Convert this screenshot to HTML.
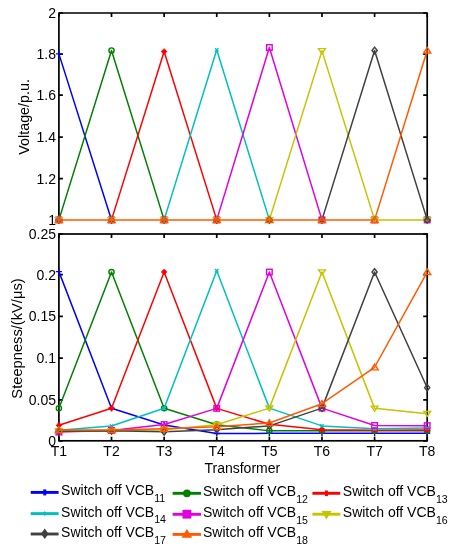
<!DOCTYPE html><html><head><meta charset="utf-8"><style>html,body{margin:0;padding:0;background:#fff;}svg{display:block;will-change:transform;}text{font-family:"Liberation Sans",sans-serif;fill:#000;}</style></head><body>
<svg width="455" height="550" viewBox="0 0 455 550">
<rect width="455" height="550" fill="#fff"/>
<path d="M58.9 218.9V13H427.2V218.9" fill="none" stroke="#000" stroke-width="1.7" stroke-linejoin="round"/>
<path d="M58.9 219.9V215.9M58.9 13V17M111.51 219.9V215.9M111.51 13V17M164.13 219.9V215.9M164.13 13V17M216.74 219.9V215.9M216.74 13V17M269.36 219.9V215.9M269.36 13V17M321.97 219.9V215.9M321.97 13V17M374.59 219.9V215.9M374.59 13V17M427.2 219.9V215.9M427.2 13V17M58.9 13H62.9M427.2 13H423.2M58.9 54.1H62.9M427.2 54.1H423.2M58.9 95.1H62.9M427.2 95.1H423.2M58.9 137.2H62.9M427.2 137.2H423.2M58.9 178.6H62.9M427.2 178.6H423.2M58.9 219.9H62.9M427.2 219.9H423.2" stroke="#000" stroke-width="1.7" fill="none"/>
<rect x="58.9" y="234" width="368.3" height="206.8" fill="none" stroke="#000" stroke-width="1.7"/>
<path d="M58.9 440.8V436.8M58.9 234V238M111.51 440.8V436.8M111.51 234V238M164.13 440.8V436.8M164.13 234V238M216.74 440.8V436.8M216.74 234V238M269.36 440.8V436.8M269.36 234V238M321.97 440.8V436.8M321.97 234V238M374.59 440.8V436.8M374.59 234V238M427.2 440.8V436.8M427.2 234V238M58.9 234H62.9M427.2 234H423.2M58.9 274.7H62.9M427.2 274.7H423.2M58.9 316.3H62.9M427.2 316.3H423.2M58.9 358.1H62.9M427.2 358.1H423.2M58.9 399.8H62.9M427.2 399.8H423.2M58.9 440.8H62.9M427.2 440.8H423.2" stroke="#000" stroke-width="1.7" fill="none"/>
<path d="M58.9 53.86L111.51 219.9" fill="none" stroke="#0000ff" stroke-width="1.5" stroke-linejoin="round" stroke-linecap="round"/>
<path d="M55.9 53.86H61.9M58.9 50.86V56.86" stroke="#0000ff" stroke-width="1.4" fill="none"/>
<path d="M108.51 219.9H114.51M111.51 216.9V222.9" stroke="#0000ff" stroke-width="1.4" fill="none"/>
<path d="M161.13 219.9H167.13M164.13 216.9V222.9" stroke="#0000ff" stroke-width="1.4" fill="none"/>
<path d="M213.74 219.9H219.74M216.74 216.9V222.9" stroke="#0000ff" stroke-width="1.4" fill="none"/>
<path d="M266.36 219.9H272.36M269.36 216.9V222.9" stroke="#0000ff" stroke-width="1.4" fill="none"/>
<path d="M318.97 219.9H324.97M321.97 216.9V222.9" stroke="#0000ff" stroke-width="1.4" fill="none"/>
<path d="M371.59 219.9H377.59M374.59 216.9V222.9" stroke="#0000ff" stroke-width="1.4" fill="none"/>
<path d="M424.2 219.9H430.2M427.2 216.9V222.9" stroke="#0000ff" stroke-width="1.4" fill="none"/>
<polyline points="58.9,271.64 111.51,408.21 164.13,425.08 216.74,433.52 269.36,433.36 321.97,433.36 374.59,433.36 427.2,433.19" fill="none" stroke="#0000ff" stroke-width="1.5" stroke-linejoin="round"/>
<path d="M55.9 271.64H61.9M58.9 268.64V274.64" stroke="#0000ff" stroke-width="1.4" fill="none"/>
<path d="M108.51 408.21H114.51M111.51 405.21V411.21" stroke="#0000ff" stroke-width="1.4" fill="none"/>
<path d="M161.13 425.08H167.13M164.13 422.08V428.08" stroke="#0000ff" stroke-width="1.4" fill="none"/>
<path d="M213.74 433.52H219.74M216.74 430.52V436.52" stroke="#0000ff" stroke-width="1.4" fill="none"/>
<path d="M266.36 433.36H272.36M269.36 430.36V436.36" stroke="#0000ff" stroke-width="1.4" fill="none"/>
<path d="M318.97 433.36H324.97M321.97 430.36V436.36" stroke="#0000ff" stroke-width="1.4" fill="none"/>
<path d="M371.59 433.36H377.59M374.59 430.36V436.36" stroke="#0000ff" stroke-width="1.4" fill="none"/>
<path d="M424.2 433.19H430.2M427.2 430.19V436.19" stroke="#0000ff" stroke-width="1.4" fill="none"/>
<path d="M58.9 219.9L111.51 50.45M111.51 50.45L164.13 219.9" fill="none" stroke="#008000" stroke-width="1.5" stroke-linejoin="round" stroke-linecap="round"/>
<circle cx="58.9" cy="219.9" r="2.6" stroke="#008000" stroke-width="1.4" fill="none"/>
<circle cx="111.51" cy="50.45" r="2.6" stroke="#008000" stroke-width="1.4" fill="none"/>
<circle cx="164.13" cy="219.9" r="2.6" stroke="#008000" stroke-width="1.4" fill="none"/>
<circle cx="216.74" cy="219.9" r="2.6" stroke="#008000" stroke-width="1.4" fill="none"/>
<circle cx="269.36" cy="219.9" r="2.6" stroke="#008000" stroke-width="1.4" fill="none"/>
<circle cx="321.97" cy="219.9" r="2.6" stroke="#008000" stroke-width="1.4" fill="none"/>
<circle cx="374.59" cy="219.9" r="2.6" stroke="#008000" stroke-width="1.4" fill="none"/>
<circle cx="427.2" cy="219.9" r="2.6" stroke="#008000" stroke-width="1.4" fill="none"/>
<polyline points="58.9,408.21 111.51,272.05 164.13,408.21 216.74,424.67 269.36,430.87 321.97,430.87 374.59,430.87 427.2,430.87" fill="none" stroke="#008000" stroke-width="1.5" stroke-linejoin="round"/>
<circle cx="58.9" cy="408.21" r="2.6" stroke="#008000" stroke-width="1.4" fill="none"/>
<circle cx="111.51" cy="272.05" r="2.6" stroke="#008000" stroke-width="1.4" fill="none"/>
<circle cx="164.13" cy="408.21" r="2.6" stroke="#008000" stroke-width="1.4" fill="none"/>
<circle cx="216.74" cy="424.67" r="2.6" stroke="#008000" stroke-width="1.4" fill="none"/>
<circle cx="269.36" cy="430.87" r="2.6" stroke="#008000" stroke-width="1.4" fill="none"/>
<circle cx="321.97" cy="430.87" r="2.6" stroke="#008000" stroke-width="1.4" fill="none"/>
<circle cx="374.59" cy="430.87" r="2.6" stroke="#008000" stroke-width="1.4" fill="none"/>
<circle cx="427.2" cy="430.87" r="2.6" stroke="#008000" stroke-width="1.4" fill="none"/>
<path d="M111.51 219.9L164.13 51.48M164.13 51.48L216.74 219.9" fill="none" stroke="#ff0000" stroke-width="1.5" stroke-linejoin="round" stroke-linecap="round"/>
<path d="M55.9 219.9H61.9M58.9 216.9V222.9M57.2 218.2L60.6 221.6M57.2 221.6L60.6 218.2" stroke="#ff0000" stroke-width="1.4" fill="none"/>
<path d="M108.51 219.9H114.51M111.51 216.9V222.9M109.81 218.2L113.21 221.6M109.81 221.6L113.21 218.2" stroke="#ff0000" stroke-width="1.4" fill="none"/>
<path d="M161.13 51.48H167.13M164.13 48.48V54.48M162.43 49.78L165.83 53.18M162.43 53.18L165.83 49.78" stroke="#ff0000" stroke-width="1.4" fill="none"/>
<path d="M213.74 219.9H219.74M216.74 216.9V222.9M215.04 218.2L218.44 221.6M215.04 221.6L218.44 218.2" stroke="#ff0000" stroke-width="1.4" fill="none"/>
<path d="M266.36 219.9H272.36M269.36 216.9V222.9M267.66 218.2L271.06 221.6M267.66 221.6L271.06 218.2" stroke="#ff0000" stroke-width="1.4" fill="none"/>
<path d="M318.97 219.9H324.97M321.97 216.9V222.9M320.27 218.2L323.67 221.6M320.27 221.6L323.67 218.2" stroke="#ff0000" stroke-width="1.4" fill="none"/>
<path d="M371.59 219.9H377.59M374.59 216.9V222.9M372.89 218.2L376.29 221.6M372.89 221.6L376.29 218.2" stroke="#ff0000" stroke-width="1.4" fill="none"/>
<path d="M424.2 219.9H430.2M427.2 216.9V222.9M425.5 218.2L428.9 221.6M425.5 221.6L428.9 218.2" stroke="#ff0000" stroke-width="1.4" fill="none"/>
<polyline points="58.9,425.33 111.51,408.21 164.13,272.05 216.74,408.37 269.36,424.26 321.97,429.8 374.59,430.29 427.2,430.05" fill="none" stroke="#ff0000" stroke-width="1.5" stroke-linejoin="round"/>
<path d="M55.9 425.33H61.9M58.9 422.33V428.33M57.2 423.63L60.6 427.03M57.2 427.03L60.6 423.63" stroke="#ff0000" stroke-width="1.4" fill="none"/>
<path d="M108.51 408.21H114.51M111.51 405.21V411.21M109.81 406.51L113.21 409.91M109.81 409.91L113.21 406.51" stroke="#ff0000" stroke-width="1.4" fill="none"/>
<path d="M161.13 272.05H167.13M164.13 269.05V275.05M162.43 270.35L165.83 273.75M162.43 273.75L165.83 270.35" stroke="#ff0000" stroke-width="1.4" fill="none"/>
<path d="M213.74 408.37H219.74M216.74 405.37V411.37M215.04 406.67L218.44 410.07M215.04 410.07L218.44 406.67" stroke="#ff0000" stroke-width="1.4" fill="none"/>
<path d="M266.36 424.26H272.36M269.36 421.26V427.26M267.66 422.56L271.06 425.96M267.66 425.96L271.06 422.56" stroke="#ff0000" stroke-width="1.4" fill="none"/>
<path d="M318.97 429.8H324.97M321.97 426.8V432.8M320.27 428.1L323.67 431.5M320.27 431.5L323.67 428.1" stroke="#ff0000" stroke-width="1.4" fill="none"/>
<path d="M371.59 430.29H377.59M374.59 427.29V433.29M372.89 428.59L376.29 431.99M372.89 431.99L376.29 428.59" stroke="#ff0000" stroke-width="1.4" fill="none"/>
<path d="M424.2 430.05H430.2M427.2 427.05V433.05M425.5 428.35L428.9 431.75M425.5 431.75L428.9 428.35" stroke="#ff0000" stroke-width="1.4" fill="none"/>
<path d="M164.13 219.9L216.74 49.83M216.74 49.83L269.36 219.9" fill="none" stroke="#00bfbf" stroke-width="1.5" stroke-linejoin="round" stroke-linecap="round"/>
<path d="M57.2 218.2L60.6 221.6M57.2 221.6L60.6 218.2" stroke="#00bfbf" stroke-width="1.4" fill="none"/>
<path d="M109.81 218.2L113.21 221.6M109.81 221.6L113.21 218.2" stroke="#00bfbf" stroke-width="1.4" fill="none"/>
<path d="M162.43 218.2L165.83 221.6M162.43 221.6L165.83 218.2" stroke="#00bfbf" stroke-width="1.4" fill="none"/>
<path d="M215.04 48.13L218.44 51.53M215.04 51.53L218.44 48.13" stroke="#00bfbf" stroke-width="1.4" fill="none"/>
<path d="M267.66 218.2L271.06 221.6M267.66 221.6L271.06 218.2" stroke="#00bfbf" stroke-width="1.4" fill="none"/>
<path d="M320.27 218.2L323.67 221.6M320.27 221.6L323.67 218.2" stroke="#00bfbf" stroke-width="1.4" fill="none"/>
<path d="M372.89 218.2L376.29 221.6M372.89 221.6L376.29 218.2" stroke="#00bfbf" stroke-width="1.4" fill="none"/>
<path d="M425.5 218.2L428.9 221.6M425.5 221.6L428.9 218.2" stroke="#00bfbf" stroke-width="1.4" fill="none"/>
<polyline points="58.9,430.21 111.51,426.08 164.13,408.21 216.74,270.81 269.36,408.13 321.97,425.91 374.59,428.81 427.2,427.98" fill="none" stroke="#00bfbf" stroke-width="1.5" stroke-linejoin="round"/>
<path d="M57.2 428.51L60.6 431.91M57.2 431.91L60.6 428.51" stroke="#00bfbf" stroke-width="1.4" fill="none"/>
<path d="M109.81 424.38L113.21 427.78M109.81 427.78L113.21 424.38" stroke="#00bfbf" stroke-width="1.4" fill="none"/>
<path d="M162.43 406.51L165.83 409.91M162.43 409.91L165.83 406.51" stroke="#00bfbf" stroke-width="1.4" fill="none"/>
<path d="M215.04 269.11L218.44 272.51M215.04 272.51L218.44 269.11" stroke="#00bfbf" stroke-width="1.4" fill="none"/>
<path d="M267.66 406.43L271.06 409.83M267.66 409.83L271.06 406.43" stroke="#00bfbf" stroke-width="1.4" fill="none"/>
<path d="M320.27 424.21L323.67 427.61M320.27 427.61L323.67 424.21" stroke="#00bfbf" stroke-width="1.4" fill="none"/>
<path d="M372.89 427.11L376.29 430.51M372.89 430.51L376.29 427.11" stroke="#00bfbf" stroke-width="1.4" fill="none"/>
<path d="M425.5 426.28L428.9 429.68M425.5 429.68L428.9 426.28" stroke="#00bfbf" stroke-width="1.4" fill="none"/>
<path d="M216.74 219.9L269.36 47.55M269.36 47.55L321.97 219.9" fill="none" stroke="#e000e0" stroke-width="1.5" stroke-linejoin="round" stroke-linecap="round"/>
<rect x="56.1" y="217.1" width="5.6" height="5.6" stroke="#e000e0" stroke-width="1.4" fill="none"/>
<rect x="108.71" y="217.1" width="5.6" height="5.6" stroke="#e000e0" stroke-width="1.4" fill="none"/>
<rect x="161.33" y="217.1" width="5.6" height="5.6" stroke="#e000e0" stroke-width="1.4" fill="none"/>
<rect x="213.94" y="217.1" width="5.6" height="5.6" stroke="#e000e0" stroke-width="1.4" fill="none"/>
<rect x="266.56" y="44.75" width="5.6" height="5.6" stroke="#e000e0" stroke-width="1.4" fill="none"/>
<rect x="319.17" y="217.1" width="5.6" height="5.6" stroke="#e000e0" stroke-width="1.4" fill="none"/>
<rect x="371.79" y="217.1" width="5.6" height="5.6" stroke="#e000e0" stroke-width="1.4" fill="none"/>
<rect x="424.4" y="217.1" width="5.6" height="5.6" stroke="#e000e0" stroke-width="1.4" fill="none"/>
<polyline points="58.9,432.11 111.51,430.38 164.13,424.59 216.74,408.37 269.36,272.05 321.97,408.13 374.59,425.5 427.2,425.66" fill="none" stroke="#e000e0" stroke-width="1.5" stroke-linejoin="round"/>
<rect x="56.1" y="429.31" width="5.6" height="5.6" stroke="#e000e0" stroke-width="1.4" fill="none"/>
<rect x="108.71" y="427.58" width="5.6" height="5.6" stroke="#e000e0" stroke-width="1.4" fill="none"/>
<rect x="161.33" y="421.79" width="5.6" height="5.6" stroke="#e000e0" stroke-width="1.4" fill="none"/>
<rect x="213.94" y="405.57" width="5.6" height="5.6" stroke="#e000e0" stroke-width="1.4" fill="none"/>
<rect x="266.56" y="269.25" width="5.6" height="5.6" stroke="#e000e0" stroke-width="1.4" fill="none"/>
<rect x="319.17" y="405.33" width="5.6" height="5.6" stroke="#e000e0" stroke-width="1.4" fill="none"/>
<rect x="371.79" y="422.7" width="5.6" height="5.6" stroke="#e000e0" stroke-width="1.4" fill="none"/>
<rect x="424.4" y="422.86" width="5.6" height="5.6" stroke="#e000e0" stroke-width="1.4" fill="none"/>
<path d="M269.36 219.9L321.97 50.86M321.97 50.86L374.59 219.9M374.59 219.9L427.2 219.9" fill="none" stroke="#c4c400" stroke-width="1.5" stroke-linejoin="round" stroke-linecap="round"/>
<path d="M55.5 217.7H62.3L58.9 222.7Z" stroke="#c4c400" stroke-width="1.4" fill="none" stroke-linejoin="miter"/>
<path d="M108.11 217.7H114.91L111.51 222.7Z" stroke="#c4c400" stroke-width="1.4" fill="none" stroke-linejoin="miter"/>
<path d="M160.73 217.7H167.53L164.13 222.7Z" stroke="#c4c400" stroke-width="1.4" fill="none" stroke-linejoin="miter"/>
<path d="M213.34 217.7H220.14L216.74 222.7Z" stroke="#c4c400" stroke-width="1.4" fill="none" stroke-linejoin="miter"/>
<path d="M265.96 217.7H272.76L269.36 222.7Z" stroke="#c4c400" stroke-width="1.4" fill="none" stroke-linejoin="miter"/>
<path d="M318.57 48.66H325.37L321.97 53.66Z" stroke="#c4c400" stroke-width="1.4" fill="none" stroke-linejoin="miter"/>
<path d="M371.19 217.7H377.99L374.59 222.7Z" stroke="#c4c400" stroke-width="1.4" fill="none" stroke-linejoin="miter"/>
<path d="M423.8 217.7H430.6L427.2 222.7Z" stroke="#c4c400" stroke-width="1.4" fill="none" stroke-linejoin="miter"/>
<polyline points="58.9,430.87 111.51,430.87 164.13,429.63 216.74,424.67 269.36,408.13 321.97,272.05 374.59,408.37 427.2,413.67" fill="none" stroke="#c4c400" stroke-width="1.5" stroke-linejoin="round"/>
<path d="M55.5 428.67H62.3L58.9 433.67Z" stroke="#c4c400" stroke-width="1.4" fill="none" stroke-linejoin="miter"/>
<path d="M108.11 428.67H114.91L111.51 433.67Z" stroke="#c4c400" stroke-width="1.4" fill="none" stroke-linejoin="miter"/>
<path d="M160.73 427.43H167.53L164.13 432.43Z" stroke="#c4c400" stroke-width="1.4" fill="none" stroke-linejoin="miter"/>
<path d="M213.34 422.47H220.14L216.74 427.47Z" stroke="#c4c400" stroke-width="1.4" fill="none" stroke-linejoin="miter"/>
<path d="M265.96 405.93H272.76L269.36 410.93Z" stroke="#c4c400" stroke-width="1.4" fill="none" stroke-linejoin="miter"/>
<path d="M318.57 269.85H325.37L321.97 274.85Z" stroke="#c4c400" stroke-width="1.4" fill="none" stroke-linejoin="miter"/>
<path d="M371.19 406.17H377.99L374.59 411.17Z" stroke="#c4c400" stroke-width="1.4" fill="none" stroke-linejoin="miter"/>
<path d="M423.8 411.47H430.6L427.2 416.47Z" stroke="#c4c400" stroke-width="1.4" fill="none" stroke-linejoin="miter"/>
<path d="M321.97 219.9L374.59 50.45M374.59 50.45L427.2 219.9" fill="none" stroke="#404040" stroke-width="1.5" stroke-linejoin="round" stroke-linecap="round"/>
<path d="M58.9 216.6L61.5 219.9L58.9 223.2L56.3 219.9Z" stroke="#404040" stroke-width="1.4" fill="none"/>
<path d="M111.51 216.6L114.11 219.9L111.51 223.2L108.91 219.9Z" stroke="#404040" stroke-width="1.4" fill="none"/>
<path d="M164.13 216.6L166.73 219.9L164.13 223.2L161.53 219.9Z" stroke="#404040" stroke-width="1.4" fill="none"/>
<path d="M216.74 216.6L219.34 219.9L216.74 223.2L214.14 219.9Z" stroke="#404040" stroke-width="1.4" fill="none"/>
<path d="M269.36 216.6L271.96 219.9L269.36 223.2L266.76 219.9Z" stroke="#404040" stroke-width="1.4" fill="none"/>
<path d="M321.97 216.6L324.57 219.9L321.97 223.2L319.37 219.9Z" stroke="#404040" stroke-width="1.4" fill="none"/>
<path d="M374.59 47.15L377.19 50.45L374.59 53.75L371.99 50.45Z" stroke="#404040" stroke-width="1.4" fill="none"/>
<path d="M427.2 216.6L429.8 219.9L427.2 223.2L424.6 219.9Z" stroke="#404040" stroke-width="1.4" fill="none"/>
<polyline points="58.9,431.29 111.51,430.87 164.13,431.7 216.74,429.63 269.36,425.91 321.97,408.13 374.59,272.05 427.2,387.69" fill="none" stroke="#404040" stroke-width="1.5" stroke-linejoin="round"/>
<path d="M58.9 427.99L61.5 431.29L58.9 434.59L56.3 431.29Z" stroke="#404040" stroke-width="1.4" fill="none"/>
<path d="M111.51 427.57L114.11 430.87L111.51 434.17L108.91 430.87Z" stroke="#404040" stroke-width="1.4" fill="none"/>
<path d="M164.13 428.4L166.73 431.7L164.13 435L161.53 431.7Z" stroke="#404040" stroke-width="1.4" fill="none"/>
<path d="M216.74 426.33L219.34 429.63L216.74 432.93L214.14 429.63Z" stroke="#404040" stroke-width="1.4" fill="none"/>
<path d="M269.36 422.61L271.96 425.91L269.36 429.21L266.76 425.91Z" stroke="#404040" stroke-width="1.4" fill="none"/>
<path d="M321.97 404.83L324.57 408.13L321.97 411.43L319.37 408.13Z" stroke="#404040" stroke-width="1.4" fill="none"/>
<path d="M374.59 268.75L377.19 272.05L374.59 275.35L371.99 272.05Z" stroke="#404040" stroke-width="1.4" fill="none"/>
<path d="M427.2 384.39L429.8 387.69L427.2 390.99L424.6 387.69Z" stroke="#404040" stroke-width="1.4" fill="none"/>
<path d="M58.9 219.9L111.51 219.9M111.51 219.9L164.13 219.9M164.13 219.9L216.74 219.9M216.74 219.9L269.36 219.9M269.36 219.9L321.97 219.9M321.97 219.9L374.59 219.9M374.59 219.9L427.2 50.45" fill="none" stroke="#ff5a00" stroke-width="1.5" stroke-linejoin="round" stroke-linecap="round"/>
<path d="M55.3 222.5H62.5L58.9 216.7Z" stroke="#ff5a00" stroke-width="1.4" fill="none" stroke-linejoin="miter"/>
<path d="M107.91 222.5H115.11L111.51 216.7Z" stroke="#ff5a00" stroke-width="1.4" fill="none" stroke-linejoin="miter"/>
<path d="M160.53 222.5H167.73L164.13 216.7Z" stroke="#ff5a00" stroke-width="1.4" fill="none" stroke-linejoin="miter"/>
<path d="M213.14 222.5H220.34L216.74 216.7Z" stroke="#ff5a00" stroke-width="1.4" fill="none" stroke-linejoin="miter"/>
<path d="M265.76 222.5H272.96L269.36 216.7Z" stroke="#ff5a00" stroke-width="1.4" fill="none" stroke-linejoin="miter"/>
<path d="M318.37 222.5H325.57L321.97 216.7Z" stroke="#ff5a00" stroke-width="1.4" fill="none" stroke-linejoin="miter"/>
<path d="M370.99 222.5H378.19L374.59 216.7Z" stroke="#ff5a00" stroke-width="1.4" fill="none" stroke-linejoin="miter"/>
<path d="M423.6 53.05H430.8L427.2 47.25Z" stroke="#ff5a00" stroke-width="1.4" fill="none" stroke-linejoin="miter"/>
<polyline points="58.9,430.05 111.51,430.05 164.13,428.64 216.74,426.74 269.36,422.93 321.97,403.74 374.59,367.26 427.2,272.05" fill="none" stroke="#ff5a00" stroke-width="1.5" stroke-linejoin="round"/>
<path d="M55.3 432.65H62.5L58.9 426.85Z" stroke="#ff5a00" stroke-width="1.4" fill="none" stroke-linejoin="miter"/>
<path d="M107.91 432.65H115.11L111.51 426.85Z" stroke="#ff5a00" stroke-width="1.4" fill="none" stroke-linejoin="miter"/>
<path d="M160.53 431.24H167.73L164.13 425.44Z" stroke="#ff5a00" stroke-width="1.4" fill="none" stroke-linejoin="miter"/>
<path d="M213.14 429.34H220.34L216.74 423.54Z" stroke="#ff5a00" stroke-width="1.4" fill="none" stroke-linejoin="miter"/>
<path d="M265.76 425.53H272.96L269.36 419.73Z" stroke="#ff5a00" stroke-width="1.4" fill="none" stroke-linejoin="miter"/>
<path d="M318.37 406.34H325.57L321.97 400.54Z" stroke="#ff5a00" stroke-width="1.4" fill="none" stroke-linejoin="miter"/>
<path d="M370.99 369.86H378.19L374.59 364.06Z" stroke="#ff5a00" stroke-width="1.4" fill="none" stroke-linejoin="miter"/>
<path d="M423.6 274.65H430.8L427.2 268.85Z" stroke="#ff5a00" stroke-width="1.4" fill="none" stroke-linejoin="miter"/>
<text x="56" y="17.9" font-size="14" text-anchor="end">2</text>
<text x="56" y="59" font-size="14" text-anchor="end">1.8</text>
<text x="56" y="100" font-size="14" text-anchor="end">1.6</text>
<text x="56" y="142.1" font-size="14" text-anchor="end">1.4</text>
<text x="56" y="183.5" font-size="14" text-anchor="end">1.2</text>
<text x="56" y="224.8" font-size="14" text-anchor="end">1</text>
<text x="56" y="238.8" font-size="14" text-anchor="end">0.25</text>
<text x="56" y="279.5" font-size="14" text-anchor="end">0.2</text>
<text x="56" y="321.1" font-size="14" text-anchor="end">0.15</text>
<text x="56" y="362.9" font-size="14" text-anchor="end">0.1</text>
<text x="56" y="404.6" font-size="14" text-anchor="end">0.05</text>
<text x="56" y="445.6" font-size="14" text-anchor="end">0</text>
<text x="58.9" y="456.4" font-size="14" text-anchor="middle">T1</text>
<text x="111.51" y="456.4" font-size="14" text-anchor="middle">T2</text>
<text x="164.13" y="456.4" font-size="14" text-anchor="middle">T3</text>
<text x="216.74" y="456.4" font-size="14" text-anchor="middle">T4</text>
<text x="269.36" y="456.4" font-size="14" text-anchor="middle">T5</text>
<text x="321.97" y="456.4" font-size="14" text-anchor="middle">T6</text>
<text x="374.59" y="456.4" font-size="14" text-anchor="middle">T7</text>
<text x="427.2" y="456.4" font-size="14" text-anchor="middle">T8</text>
<text x="242.3" y="472.8" font-size="14" text-anchor="middle">Transformer</text>
<text transform="translate(29.4 116.9) rotate(-90)" font-size="14.3" text-anchor="middle">Voltage/p.u.</text>
<text transform="translate(21.5 338.5) rotate(-90)" font-size="14.7" text-anchor="middle">Steepness/(kV/&#956;s)</text>
<path d="M30.7 492.4H58.6" stroke="#0000ff" stroke-width="2.9"/>
<rect x="43.25" y="489.4" width="3.0" height="6.0" fill="#0000ff"/>
<text x="61.1" y="495.35" font-size="14">Switch off VCB<tspan dy="6.7" font-size="10.6">11</tspan></text>
<path d="M172.6 493.3H201" stroke="#008000" stroke-width="2.9"/>
<circle cx="186.9" cy="493.3" r="3.9" fill="#008000"/>
<text x="203" y="496.25" font-size="14">Switch off VCB<tspan dy="6.7" font-size="10.6">12</tspan></text>
<path d="M312.4 493.3H340.3" stroke="#ff0000" stroke-width="2.9"/>
<rect x="324.95" y="490.5" width="3.0" height="5.6" fill="#ff0000"/>
<text x="342.8" y="496.25" font-size="14">Switch off VCB<tspan dy="6.7" font-size="10.6">13</tspan></text>
<path d="M30.7 513.6H58.6" stroke="#00bfbf" stroke-width="2.9"/>
<path d="M44.75 510.9L46.95 513.6L44.75 516.1L42.55 513.6Z" fill="#00bfbf"/>
<text x="61.1" y="516.55" font-size="14">Switch off VCB<tspan dy="6.7" font-size="10.6">14</tspan></text>
<path d="M172.6 514.3H201" stroke="#e000e0" stroke-width="2.9"/>
<rect x="182.5" y="509.8" width="8.8" height="8.8" fill="#e000e0"/>
<text x="203" y="517.25" font-size="14">Switch off VCB<tspan dy="6.7" font-size="10.6">15</tspan></text>
<path d="M312.4 514.2H340.3" stroke="#c4c400" stroke-width="2.9"/>
<path d="M321.45 511H331.45L326.45 519.6Z" fill="#c4c400"/>
<text x="342.8" y="517.15" font-size="14">Switch off VCB<tspan dy="6.7" font-size="10.6">16</tspan></text>
<path d="M30.7 534H58.6" stroke="#404040" stroke-width="2.9"/>
<path d="M44.75 528.4L48.55 533.8L44.75 539.1L40.95 533.8Z" fill="#404040"/>
<text x="61.1" y="536.95" font-size="14">Switch off VCB<tspan dy="6.7" font-size="10.6">17</tspan></text>
<path d="M172.6 534.4H201" stroke="#ff5a00" stroke-width="2.9"/>
<path d="M181.55 537.8H192.25L186.9 529.1Z" fill="#ff5a00"/>
<text x="203" y="537.35" font-size="14">Switch off VCB<tspan dy="6.7" font-size="10.6">18</tspan></text>
</svg></body></html>
